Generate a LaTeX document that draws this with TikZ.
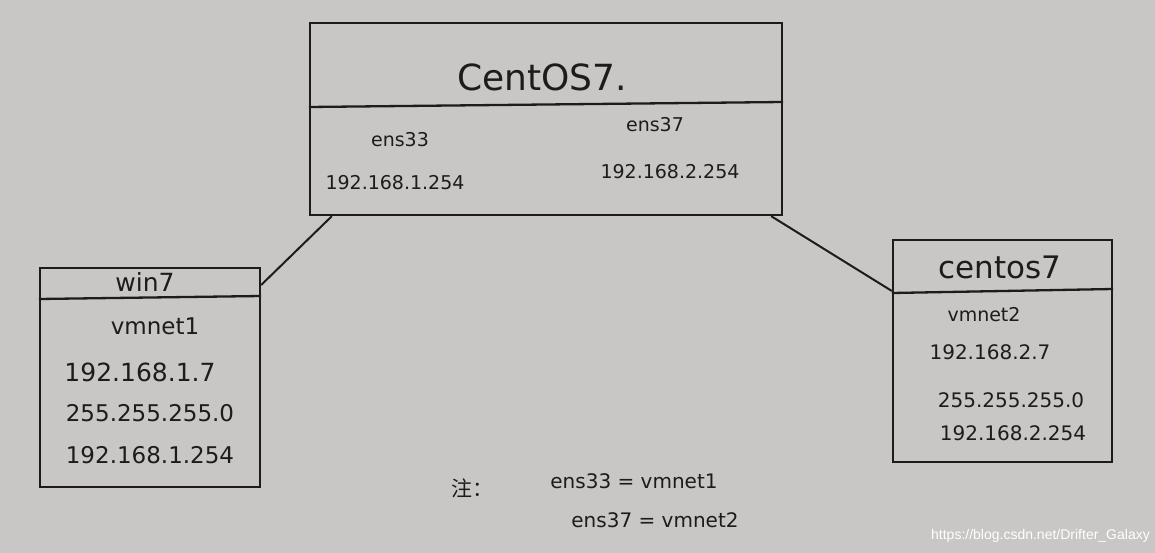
\documentclass[tikz,border=0pt]{standalone}
\usepackage{fontspec}
\setmainfont{DejaVu Sans}
\newfontfamily\cjk{Noto Sans CJK SC}
\newfontfamily\wmfont{Liberation Sans}
\usetikzlibrary{calc}
\definecolor{paper}{RGB}{200,199,197}
\definecolor{ink}{RGB}{28,28,28}
\tikzset{
  box/.style={draw=ink, line width=2.3pt, rectangle, inner sep=0pt},
  divider/.style={draw=ink, line width=2.3pt},
  link/.style={draw=ink, line width=2pt},
  hand/.style={text=ink, inner sep=1pt, anchor=center},
  big/.style={hand, font=\fontsize{36}{38}\selectfont},
  mid/.style={hand, font=\fontsize{23}{25}\selectfont},
  small/.style={hand, font=\fontsize{19}{21}\selectfont},
  wm/.style={text=white, font=\wmfont\fontsize{14}{16}\selectfont, inner sep=0pt, anchor=east}
}
\begin{document}
\begin{tikzpicture}[x=1pt,y=-1pt]
\fill[paper] (0,0) rectangle (1155,553);
\useasboundingbox (0,0) rectangle (1155,553);

% main CentOS7 box
\node[box, minimum width=472pt, minimum height=192pt] (main) at (546,119) {};
\draw[divider] (main.west |- 0,107) coordinate (md1) -- (main.east |- 0,102) coordinate (md2);
\node[big] (mtitle) at (542,77) {CentOS7.};
\node[small] (m1) at (400,140) {ens33};
\node[small] (m2) at (395,183) {192.168.1.254};
\node[small] (m3) at (655,125) {ens37};
\node[small] (m4) at (670,172) {192.168.2.254};

% left win7 box
\node[box, minimum width=220pt, minimum height=219pt] (left) at (150,377.5) {};
\draw[divider] (left.west |- 0,299) coordinate (ld1) -- (left.east |- 0,296) coordinate (ld2);
\node[mid, font=\fontsize{25}{27}\selectfont] (ltitle) at (145,282) {win7};
\node[mid] (l1) at (155,326) {vmnet1};
\node[mid, font=\fontsize{25}{27}\selectfont] (l2) at (140,372) {192.168.1.7};
\node[mid] (l3) at (150,413) {255.255.255.0};
\node[mid] (l4) at (150,455) {192.168.1.254};

% right centos7 box
\node[box, minimum width=219pt, minimum height=222pt] (right) at (1002.5,351) {};
\draw[divider] (right.west |- 0,293) coordinate (rd1) -- (right.east |- 0,289) coordinate (rd2);
\node[hand, font=\fontsize{31}{33}\selectfont] (rtitle) at (1000,267) {centos7};
\node[small] (r1) at (984,315) {vmnet2};
\node[small, font=\fontsize{20}{22}\selectfont] (r2) at (990,352) {192.168.2.7};
\node[small, font=\fontsize{20}{22}\selectfont] (r3) at (1011,400) {255.255.255.0};
\node[small, font=\fontsize{20}{22}\selectfont] (r4) at (1013,433) {192.168.2.254};

% connectors
\coordinate (mA) at ($(main.south west)+(23,0)$);
\coordinate (mB) at ($(main.south east)+(-12,0)$);
\draw[link] (mA) -- (left.east |- 0,285);
\draw[link] (mB) -- (right.west |- 0,291);

% note
\node[hand, font=\cjk\fontsize{21}{23}\selectfont] (note) at (472,488) {注：};
\node[small, font=\fontsize{20}{22}\selectfont] (n1) at (634,481) {ens33 = vmnet1};
\node[small, font=\fontsize{20}{22}\selectfont] (n2) at (655,520) {ens37 = vmnet2};

% watermark
\node[wm] (wmark) at (1150,536) {https://blog.csdn.net/Drifter\_Galaxy};
\end{tikzpicture}
\end{document}
